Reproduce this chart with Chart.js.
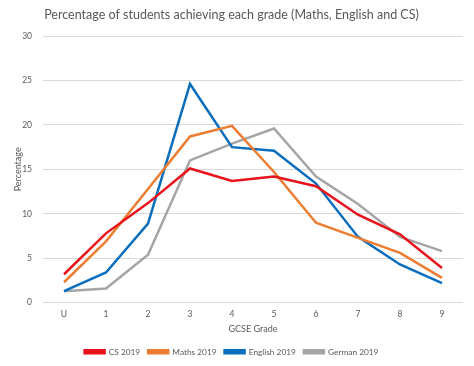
<!DOCTYPE html>
<html>
<head>
<meta charset="utf-8">
<script src="https://cdn.jsdelivr.net/npm/chart.js@4.4.0/dist/chart.umd.min.js"></script>
<style>
html,body{margin:0;padding:0;background:#fff;}
#wrap{width:474px;height:366px;position:relative;}
</style>
</head>
<body>
<div id="wrap"><canvas id="c" width="474" height="366"></canvas></div>
<script>
const grades = ["U","1","2","3","4","5","6","7","8","9"];
const cs2019 = [3.2, 7.8, 11.2, 15.1, 13.7, 14.2, 13.1, 9.9, 7.7, 3.9];
const maths2019 = [2.3, 6.9, 12.8, 18.7, 19.9, 14.7, 9.0, 7.3, 5.6, 2.8];
const english2019 = [1.3, 3.4, 8.9, 24.6, 17.5, 17.1, 13.4, 7.4, 4.3, 2.2];
const german2019 = [1.3, 1.6, 5.4, 16.0, 17.9, 19.6, 14.2, 11.1, 7.4, 5.8];
const yTicks = [0, 5, 10, 15, 20, 25, 30];

const FONT = "Lato, 'Open Sans', sans-serif";
const TXT = "#595959";
function ds(label, data, color){
  return {label, data, borderColor: color, backgroundColor: color, borderWidth: 2.5,
          pointRadius: 0, pointHoverRadius: 0, tension: 0, fill: false};
}
new Chart(document.getElementById('c'), {
  type: 'line',
  data: {
    labels: grades,
    datasets: [
      ds("CS 2019", cs2019, "#E8131B"),
      ds("Maths 2019", maths2019, "#ED7D31"),
      ds("English 2019", english2019, "#0A6EBD"),
      ds("German 2019", german2019, "#A5A5A5")
    ]
  },
  options: {
    responsive: false,
    animation: false,
    layout: {padding: {left: 0, right: 11, top: 0, bottom: 0}},
    plugins: {
      title: {display: true, text: "Percentage of students achieving each grade (Maths, English and CS)",
              color: TXT, font: {family: FONT, size: 12.5, weight: 'normal'}, padding: {top: 7, bottom: 14}},
      legend: {position: 'bottom', labels: {color: TXT, boxWidth: 20, boxHeight: 3, padding: 8,
               font: {family: FONT, size: 8.3}}},
      tooltip: {enabled: false}
    },
    scales: {
      x: {
        offset: true,
        grid: {display: false, drawTicks: false, tickLength: 0},
        border: {display: false},
        ticks: {color: TXT, font: {family: FONT, size: 8.5}, padding: 6, maxRotation: 0},
        title: {display: true, text: "GCSE Grade", color: TXT, font: {family: FONT, size: 9}, padding: {top: 4, bottom: 5}},
        afterFit: (s) => { s.height = 37; }
      },
      y: {
        min: 0, max: 30,
        afterBuildTicks: (s) => { s.ticks = yTicks.map(v => ({value: v})); },
        grid: {color: "#D9D9D9", lineWidth: 1, drawTicks: false},
        border: {display: false},
        ticks: {color: TXT, font: {family: FONT, size: 8.5}, padding: 11},
        title: {display: true, text: "Percentage", color: TXT, font: {family: FONT, size: 9}, padding: {top: 13, bottom: 0}},
        afterFit: (s) => { s.width = 43; }
      }
    }
  }
});
</script>
</body>
</html>
